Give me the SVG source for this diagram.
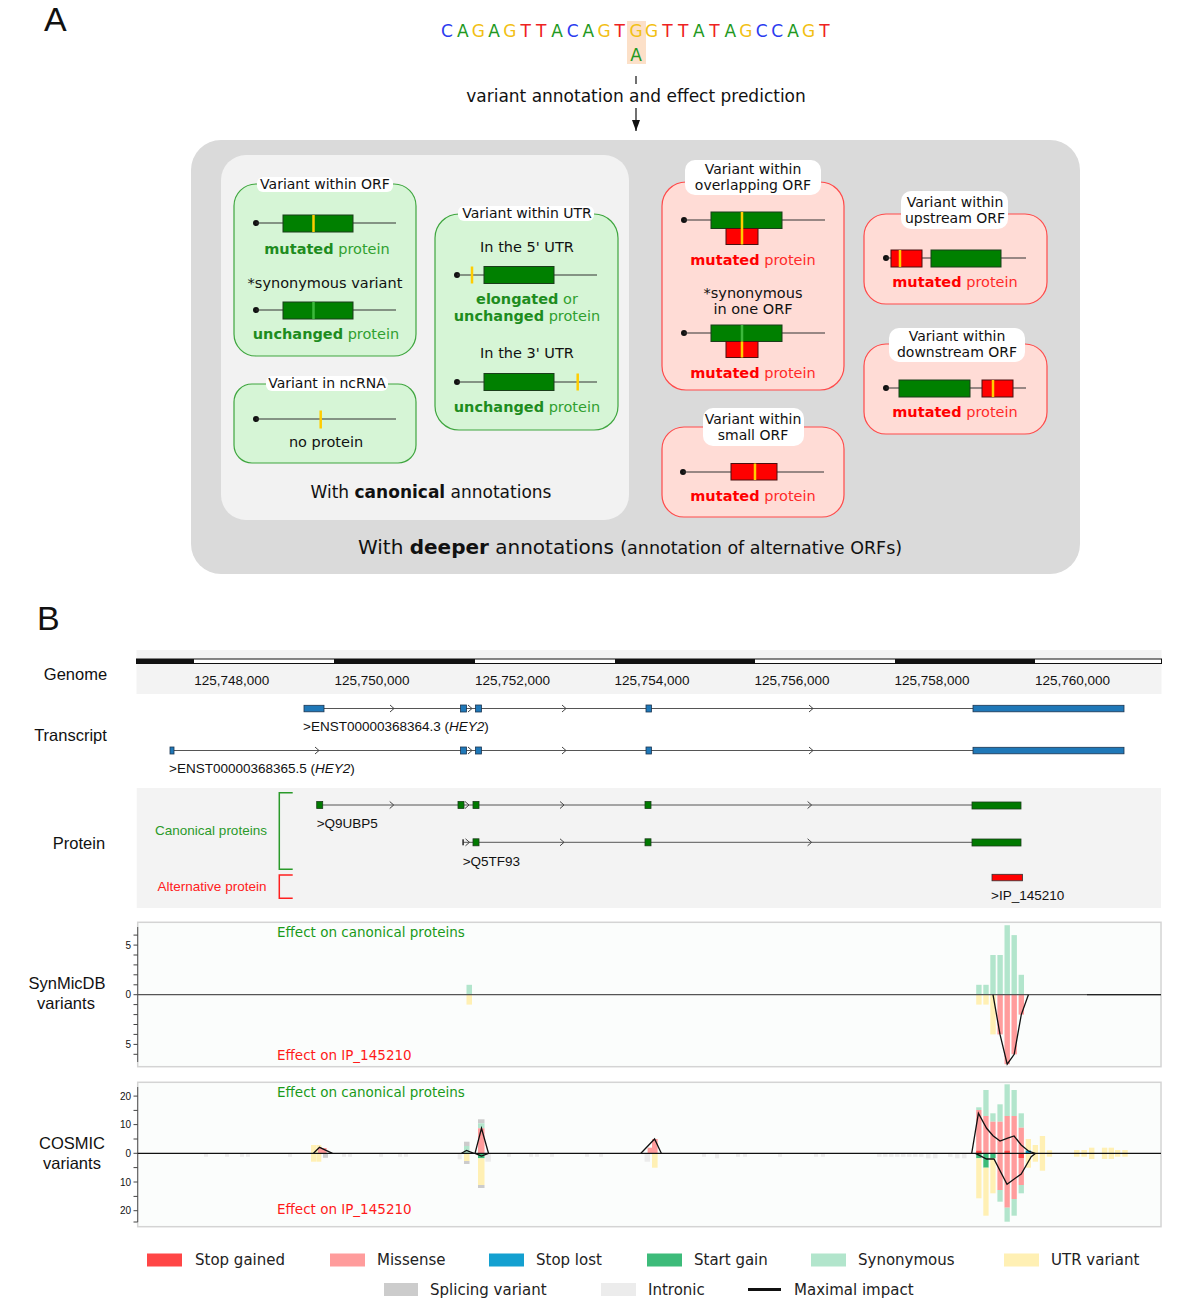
<svg xmlns="http://www.w3.org/2000/svg" width="1200" height="1299" viewBox="0 0 1200 1299">
<style>
.v{font-family:"DejaVu Sans",Verdana,sans-serif}
.a{font-family:"Liberation Sans",Arial,sans-serif}
.ttl{font-size:14px;fill:#111;text-anchor:middle}
.bd{font-size:14.5px;text-anchor:middle}
.blk{fill:#111}
.gb{fill:#d6f5d6;stroke:#3fa63f;stroke-width:1.2}
.rb{fill:#ffdcd6;stroke:#ff4a4a;stroke-width:1.2}
.pill{fill:#fff}
.gl{stroke:#333;stroke-width:1.2}
.gr{fill:#008000;stroke:#1b3d1b;stroke-width:1}
.rr{fill:#ff0000;stroke:#4a1010;stroke-width:1}
.yb{stroke:#ffcc00;stroke-width:2.5}
.lg{stroke:#3cb83c;stroke-width:2.5}
.gtx{fill:#30a030}
.gtb{fill:#1e8c1e;font-weight:bold}
.rtx{fill:#ff2a2a}
.rtb{fill:#ff0000;font-weight:bold}
.seq{font-size:17px;text-anchor:middle}
.C{fill:#2b3bef}.A{fill:#229922}.G{fill:#f2c014}.T{fill:#ee2222}
.tl{stroke:#555;stroke-width:1;fill:none}
.chev{stroke:#444;stroke-width:1;fill:none}
.bx{fill:#1f78b8;stroke:#1d3550;stroke-width:0.8}
.pg{fill:#007a00;stroke:#1b3d1b;stroke-width:0.8}
.lbl{font-size:13.5px;fill:#111}
.side{font-size:16.5px;fill:#111;text-anchor:middle}
.pos{font-size:13.5px;fill:#111;text-anchor:middle}
.ax{font-size:10px;fill:#111;text-anchor:end}
.tick{stroke:#444;stroke-width:1}
.eff{font-size:13.5px}
.sg{fill:#ff4646}.ms{fill:#ff9c9c}.sl{fill:#14a0d0}.st{fill:#3dbb7a}.sy{fill:#b2e5cc}.ut{fill:#fff0b4}.sp{fill:#cccccc}.in{fill:#ececec}
.mx{stroke:#111;stroke-width:1.3;fill:none}
.leg{font-size:15px;fill:#222}
</style>
<defs>
<marker id="arr" markerWidth="12" markerHeight="8" refX="11" refY="4" orient="auto" markerUnits="userSpaceOnUse"><path d="M0,0 L11,4 L0,8 Z" fill="#111"/></marker>
</defs>
<rect width="1200" height="1299" fill="#fff"/>

<text class="a" x="44" y="31" font-size="34" fill="#111">A</text>
<text class="a" x="37" y="630" font-size="34" fill="#111">B</text>

<!-- sequence -->
<g id="sequence" class="v seq">
<rect x="627" y="21" width="19" height="43" fill="#fce0c8"/>
<text class="C" x="447" y="37">C</text><text class="A" x="462.7" y="37">A</text><text class="G" x="478.4" y="37">G</text><text class="A" x="494.1" y="37">A</text><text class="G" x="509.8" y="37">G</text><text class="T" x="525.6" y="37">T</text><text class="T" x="541.3" y="37">T</text><text class="A" x="557" y="37">A</text><text class="C" x="572.7" y="37">C</text><text class="A" x="588.4" y="37">A</text><text class="G" x="604.1" y="37">G</text><text class="T" x="619.8" y="37">T</text><text class="G" x="636" y="37">G</text><text class="G" x="651.7" y="37">G</text><text class="T" x="667.4" y="37">T</text><text class="T" x="683.1" y="37">T</text><text class="A" x="698.8" y="37">A</text><text class="T" x="714.5" y="37">T</text><text class="A" x="730.2" y="37">A</text><text class="G" x="745.9" y="37">G</text><text class="C" x="761.6" y="37">C</text><text class="C" x="777.3" y="37">C</text><text class="A" x="793" y="37">A</text><text class="G" x="808.7" y="37">G</text><text class="T" x="824.4" y="37">T</text>
<text class="A" x="636" y="61">A</text>
</g>
<text class="v" x="636" y="102" font-size="17" fill="#111" text-anchor="middle">variant annotation and effect prediction</text>

<g id="connectors">
<line x1="636" y1="76" x2="636" y2="84" stroke="#111" stroke-width="1.2"/>
<line x1="636" y1="108" x2="636" y2="131" stroke="#111" stroke-width="1.2" marker-end="url(#arr)"/>
</g>

<!-- Panel A containers -->
<g id="deeper">
<rect x="191" y="140" width="889" height="434" rx="30" fill="#dadada"/>
<text class="v" x="630" y="554" font-size="20" fill="#111" text-anchor="middle">With <tspan font-weight="bold">deeper</tspan> annotations <tspan font-size="17.5">(annotation of alternative ORFs)</tspan></text>
</g>
<g id="canonical">
<rect x="221" y="155" width="408" height="365" rx="25" fill="#f2f2f2"/>
<text class="v" x="431" y="498" font-size="17" fill="#111" text-anchor="middle">With <tspan font-weight="bold">canonical</tspan> annotations</text>
</g>

<g id="orf" class="v">
<rect class="gb" x="234" y="184" width="182" height="172" rx="22"/>
<rect class="pill" x="257" y="177" width="136" height="15" rx="6"/>
<text class="ttl" x="325" y="189">Variant within ORF</text>
<circle cx="256" cy="223" r="3" fill="#111"/><line class="gl" x1="256" y1="223" x2="396" y2="223"/>
<rect class="gr" x="283" y="215" width="70" height="17"/><line class="yb" x1="313.5" y1="215" x2="313.5" y2="232"/>
<text class="bd" x="327" y="254"><tspan class="gtb">mutated</tspan><tspan class="gtx"> protein</tspan></text>
<text class="bd blk" x="325" y="288">*synonymous variant</text>
<circle cx="256" cy="310" r="3" fill="#111"/><line class="gl" x1="256" y1="310" x2="396" y2="310"/>
<rect class="gr" x="283" y="302" width="70" height="17"/><line class="lg" x1="313.5" y1="302" x2="313.5" y2="319"/>
<text class="bd" x="326" y="339"><tspan class="gtb">unchanged</tspan><tspan class="gtx"> protein</tspan></text>
</g>

<g id="ncrna" class="v">
<rect class="gb" x="234" y="384" width="182" height="79" rx="18"/>
<rect class="pill" x="266" y="376" width="122" height="15" rx="6"/>
<text class="ttl" x="327" y="388">Variant in ncRNA</text>
<circle cx="256" cy="419" r="3" fill="#111"/><line class="gl" x1="256" y1="419" x2="396" y2="419"/>
<line class="yb" x1="320.7" y1="410.5" x2="320.7" y2="428.5"/>
<text class="bd blk" x="326" y="447">no protein</text>
</g>

<g id="utr" class="v">
<rect class="gb" x="435" y="214" width="183" height="216" rx="24"/>
<rect class="pill" x="458" y="206" width="136" height="15" rx="6"/>
<text class="ttl" x="527" y="218">Variant within UTR</text>
<text class="bd blk" x="527" y="252">In the 5' UTR</text>
<circle cx="457" cy="275" r="3" fill="#111"/><line class="gl" x1="457" y1="275" x2="597" y2="275"/>
<line class="yb" x1="472" y1="266.5" x2="472" y2="283.5"/>
<rect class="gr" x="484" y="266.5" width="70" height="17"/>
<text class="bd" x="527" y="304"><tspan class="gtb">elongated</tspan><tspan class="gtx"> or</tspan></text>
<text class="bd" x="527" y="321"><tspan class="gtb">unchanged</tspan><tspan class="gtx"> protein</tspan></text>
<text class="bd blk" x="527" y="358">In the 3' UTR</text>
<circle cx="457" cy="382" r="3" fill="#111"/><line class="gl" x1="457" y1="382" x2="597" y2="382"/>
<rect class="gr" x="484" y="373.5" width="70" height="17"/>
<line class="yb" x1="577.7" y1="373.5" x2="577.7" y2="390.5"/>
<text class="bd" x="527" y="411.5"><tspan class="gtb">unchanged</tspan><tspan class="gtx"> protein</tspan></text>
</g>

<g id="overlapping" class="v">
<rect class="rb" x="662" y="182" width="182" height="208" rx="24"/>
<rect class="pill" x="685" y="160" width="136" height="35" rx="10"/>
<text class="ttl" x="753" y="174">Variant within</text>
<text class="ttl" x="753" y="189.5">overlapping ORF</text>
<circle cx="684" cy="220" r="3" fill="#111"/><line class="gl" x1="684" y1="220" x2="825" y2="220"/>
<rect class="gr" x="711" y="212" width="71" height="16.5"/>
<rect class="rr" x="726" y="228.5" width="32" height="16"/>
<line class="yb" x1="742" y1="212" x2="742" y2="244.5"/>
<text class="bd" x="753" y="265"><tspan class="rtb">mutated</tspan><tspan class="rtx"> protein</tspan></text>
<text class="bd blk" x="753" y="298.3">*synonymous</text>
<text class="bd blk" x="753" y="314.3">in one ORF</text>
<circle cx="684" cy="333" r="3" fill="#111"/><line class="gl" x1="684" y1="333" x2="825" y2="333"/>
<rect class="gr" x="711" y="325" width="71" height="16.5"/>
<rect class="rr" x="726" y="341.5" width="32" height="16"/>
<line class="lg" x1="742" y1="325" x2="742" y2="341.5"/>
<line class="yb" x1="742" y1="341.5" x2="742" y2="357.5"/>
<text class="bd" x="753" y="377.7"><tspan class="rtb">mutated</tspan><tspan class="rtx"> protein</tspan></text>
</g>

<g id="small" class="v">
<rect class="rb" x="662" y="427" width="182" height="90" rx="22"/>
<rect class="pill" x="703" y="408" width="101" height="38" rx="10"/>
<text class="ttl" x="753" y="424">Variant within</text>
<text class="ttl" x="753" y="440">small ORF</text>
<circle cx="683" cy="472" r="3" fill="#111"/><line class="gl" x1="683" y1="472" x2="824" y2="472"/>
<rect class="rr" x="731" y="463.5" width="46" height="16.5"/>
<line class="yb" x1="755" y1="463.5" x2="755" y2="480"/>
<text class="bd" x="753" y="500.7"><tspan class="rtb">mutated</tspan><tspan class="rtx"> protein</tspan></text>
</g>

<g id="upstream" class="v">
<rect class="rb" x="864" y="214" width="183" height="90" rx="22"/>
<rect class="pill" x="901" y="191" width="107" height="38" rx="10"/>
<text class="ttl" x="955" y="206.7">Variant within</text>
<text class="ttl" x="955" y="223.3">upstream ORF</text>
<circle cx="886" cy="258" r="3" fill="#111"/><line class="gl" x1="886" y1="258" x2="1026" y2="258"/>
<rect class="rr" x="891" y="250" width="31" height="17"/>
<line class="yb" x1="900" y1="250" x2="900" y2="267"/>
<rect class="gr" x="931" y="250" width="70" height="17"/>
<text class="bd" x="955" y="287.3"><tspan class="rtb">mutated</tspan><tspan class="rtx"> protein</tspan></text>
</g>

<g id="downstream" class="v">
<rect class="rb" x="864" y="344" width="183" height="90" rx="22"/>
<rect class="pill" x="889" y="328" width="136" height="34" rx="10"/>
<text class="ttl" x="957" y="340.7">Variant within</text>
<text class="ttl" x="957" y="356.7">downstream ORF</text>
<circle cx="886" cy="388" r="3" fill="#111"/><line class="gl" x1="886" y1="388" x2="1026" y2="388"/>
<rect class="gr" x="899" y="380" width="71" height="17"/>
<rect class="rr" x="982" y="380" width="31" height="17"/>
<line class="yb" x1="993" y1="380" x2="993" y2="397"/>
<text class="bd" x="955" y="416.7"><tspan class="rtb">mutated</tspan><tspan class="rtx"> protein</tspan></text>
</g>

<!-- Panel B -->
<g id="side-labels" class="a side">
<text x="75.5" y="680">Genome</text>
<text x="70.5" y="741">Transcript</text>
<text x="79" y="849">Protein</text>
<text x="67" y="989">SynMicDB</text>
<text x="66" y="1009">variants</text>
<text x="72" y="1149">COSMIC</text>
<text x="72" y="1169">variants</text>
</g>

<g id="genome" class="a">
<rect x="136.5" y="650" width="1025" height="44" fill="#f3f3f3"/>
<rect x="136.5" y="659" width="1025" height="4.5" fill="#fff" stroke="#111" stroke-width="1"/>
<rect x="136.5" y="659" width="57.5" height="4.5" fill="#111"/>
<rect x="334" y="659" width="141" height="4.5" fill="#111"/>
<rect x="615" y="659" width="140" height="4.5" fill="#111"/>
<rect x="895" y="659" width="140" height="4.5" fill="#111"/>
<text class="pos" x="231.7" y="685">125,748,000</text>
<text class="pos" x="372" y="685">125,750,000</text>
<text class="pos" x="512.5" y="685">125,752,000</text>
<text class="pos" x="652" y="685">125,754,000</text>
<text class="pos" x="792" y="685">125,756,000</text>
<text class="pos" x="932" y="685">125,758,000</text>
<text class="pos" x="1072.5" y="685">125,760,000</text>
</g>

<g id="transcript1" class="a">
<line class="tl" x1="305" y1="708.5" x2="1124" y2="708.5"/>
<polyline class="chev" points="390,705 394,708.5 390,712"/>
<polyline class="chev" points="468,705 472,708.5 468,712"/>
<polyline class="chev" points="562,705 566,708.5 562,712"/>
<polyline class="chev" points="809,705 813,708.5 809,712"/>
<rect class="bx" x="304" y="705.3" width="20" height="6.5"/>
<rect class="bx" x="460.5" y="705" width="6" height="7"/>
<rect class="bx" x="475.5" y="705" width="6" height="7"/>
<rect class="bx" x="646" y="705" width="5.5" height="7"/>
<rect class="bx" x="973" y="705.3" width="151" height="6.5"/>
<text class="lbl" x="303" y="731">&gt;ENST00000368364.3 (<tspan font-style="italic">HEY2</tspan>)</text>
</g>
<g id="transcript2" class="a">
<line class="tl" x1="170" y1="750.5" x2="1124" y2="750.5"/>
<polyline class="chev" points="315,747 319,750.5 315,754"/>
<polyline class="chev" points="468,747 472,750.5 468,754"/>
<polyline class="chev" points="562,747 566,750.5 562,754"/>
<polyline class="chev" points="809,747 813,750.5 809,754"/>
<rect class="bx" x="170" y="747" width="4" height="7"/>
<rect class="bx" x="460.5" y="747" width="6" height="7"/>
<rect class="bx" x="475.5" y="747" width="6" height="7"/>
<rect class="bx" x="646" y="747" width="5.5" height="7"/>
<rect class="bx" x="973" y="747.3" width="151" height="6.5"/>
<text class="lbl" x="169" y="773">&gt;ENST00000368365.5 (<tspan font-style="italic">HEY2</tspan>)</text>
</g>

<g id="protein-track" class="a">
<rect x="136.7" y="788" width="1024.3" height="120" fill="#f3f3f3"/>
<path d="M292.7,792.7 H279.3 V869.3 H292.7" fill="none" stroke="#2a9a2a" stroke-width="1.5"/>
<path d="M292.7,875 H279.3 V898.3 H292.7" fill="none" stroke="#ff2020" stroke-width="1.5"/>
<text x="211" y="834.5" font-size="13.5" fill="#2a9a2a" text-anchor="middle">Canonical proteins</text>
<text x="212" y="891" font-size="13.5" fill="#ff2020" text-anchor="middle">Alternative protein</text>
</g>
<g id="q9ubp5" class="a">
<line class="tl" x1="317" y1="805" x2="1021" y2="805"/>
<polyline class="chev" points="389.7,801.5 393.7,805 389.7,808.5"/>
<polyline class="chev" points="465,801.5 469,805 465,808.5"/>
<polyline class="chev" points="560,801.5 564,805 560,808.5"/>
<polyline class="chev" points="807.6,801.5 811.6,805 807.6,808.5"/>
<rect class="pg" x="316.7" y="801.5" width="6" height="7"/>
<rect class="pg" x="458" y="801.5" width="6" height="7"/>
<rect class="pg" x="473" y="801.5" width="6" height="7"/>
<rect class="pg" x="645" y="801.5" width="6" height="7"/>
<rect class="pg" x="972" y="802" width="49" height="7"/>
<text class="lbl" x="316.7" y="828">&gt;Q9UBP5</text>
</g>
<g id="q5tf93" class="a">
<line class="tl" x1="463" y1="842.3" x2="1021" y2="842.3"/>
<rect x="462.3" y="839.3" width="1.6" height="6" fill="#333"/>
<polyline class="chev" points="465.5,838.8 469.5,842.3 465.5,845.8"/>
<polyline class="chev" points="560,838.8 564,842.3 560,845.8"/>
<polyline class="chev" points="807.6,838.8 811.6,842.3 807.6,845.8"/>
<rect class="pg" x="473" y="838.8" width="6" height="7"/>
<rect class="pg" x="645" y="838.8" width="6" height="7"/>
<rect class="pg" x="972" y="839" width="49" height="7"/>
<text class="lbl" x="462.7" y="865.5">&gt;Q5TF93</text>
</g>
<g id="ip145210" class="a">
<rect x="992" y="874.3" width="30.5" height="6.5" fill="#ff0000" stroke="#333" stroke-width="0.8"/>
<text class="lbl" x="991" y="900">&gt;IP_145210</text>
</g>

<!-- SynMicDB chart -->
<g id="synmicdb">
<rect x="137.7" y="922.3" width="1023.3" height="144.4" fill="#fbfdfc" stroke="#d4d4d4" stroke-width="1.5"/>
<line x1="137.7" y1="927" x2="137.7" y2="1062" stroke="#555" stroke-width="1"/>
<g class="tick">
<line x1="133.5" y1="935.1" x2="137.7" y2="935.1"/><line x1="133.5" y1="945.1" x2="137.7" y2="945.1"/><line x1="133.5" y1="955" x2="137.7" y2="955"/><line x1="133.5" y1="964.9" x2="137.7" y2="964.9"/><line x1="133.5" y1="974.8" x2="137.7" y2="974.8"/><line x1="133.5" y1="984.8" x2="137.7" y2="984.8"/><line x1="133.5" y1="994.7" x2="137.7" y2="994.7"/><line x1="133.5" y1="1004.6" x2="137.7" y2="1004.6"/><line x1="133.5" y1="1014.6" x2="137.7" y2="1014.6"/><line x1="133.5" y1="1024.5" x2="137.7" y2="1024.5"/><line x1="133.5" y1="1034.4" x2="137.7" y2="1034.4"/><line x1="133.5" y1="1044.4" x2="137.7" y2="1044.4"/><line x1="133.5" y1="1054.3" x2="137.7" y2="1054.3"/>
</g>
<g class="a ax"><text x="131" y="948.5">5</text><text x="131" y="998.2">0</text><text x="131" y="1047.8">5</text></g>
<text class="v eff" x="277" y="937" fill="#1a9a1a">Effect on canonical proteins</text>
<text class="v eff" x="277" y="1060" fill="#ff1a1a">Effect on IP_145210</text>
<rect class="sy" x="466.5" y="984.8" width="5.5" height="9.9"/>
<rect class="ut" x="466.5" y="994.7" width="5.5" height="9.9"/>
<rect class="sy" x="976.2" y="984.8" width="5.4" height="9.9"/>
<rect class="sy" x="983.3" y="984.8" width="5.4" height="9.9"/>
<rect class="sy" x="990.3" y="955" width="5.4" height="39.7"/>
<rect class="sy" x="997.4" y="955" width="5.4" height="39.7"/>
<rect class="sy" x="1004.5" y="925.2" width="5.4" height="69.5"/>
<rect class="sy" x="1011.5" y="935.1" width="5.4" height="59.6"/>
<rect class="sy" x="1018.6" y="974.8" width="5.4" height="19.9"/>
<rect class="ut" x="976.2" y="994.7" width="5.4" height="9.9"/>
<rect class="ut" x="983.3" y="994.7" width="5.4" height="9.9"/>
<rect class="ut" x="990.3" y="994.7" width="5.4" height="39.7"/>
<rect class="ms" x="997.4" y="994.7" width="5.4" height="39.7"/>
<rect class="ms" x="1004.5" y="994.7" width="5.4" height="69.5"/>
<rect class="ms" x="1011.5" y="994.7" width="5.4" height="59.6"/>
<rect class="ms" x="1018.6" y="994.7" width="5.4" height="19.9"/>
<line x1="137.7" y1="994.7" x2="1161" y2="994.7" stroke="#555" stroke-width="1.3"/>
<line x1="1087" y1="994.7" x2="1161" y2="994.7" stroke="#222" stroke-width="1.3"/>
<polyline class="mx" points="993,994.7 1000,1034.4 1007.2,1064.2 1014.2,1054.3 1021.3,1014.6 1028.4,994.7"/>
</g>

<!-- COSMIC chart -->
<g id="cosmic">
<rect x="137.7" y="1082.3" width="1023.3" height="144.4" fill="#fbfdfc" stroke="#d4d4d4" stroke-width="1.5"/>
<line x1="137.7" y1="1087" x2="137.7" y2="1222" stroke="#555" stroke-width="1"/>
<g class="tick">
<line x1="133.5" y1="1096.1" x2="137.7" y2="1096.1"/><line x1="133.5" y1="1110.4" x2="137.7" y2="1110.4"/><line x1="133.5" y1="1124.6" x2="137.7" y2="1124.6"/><line x1="133.5" y1="1139" x2="137.7" y2="1139"/><line x1="133.5" y1="1153.3" x2="137.7" y2="1153.3"/><line x1="133.5" y1="1167.6" x2="137.7" y2="1167.6"/><line x1="133.5" y1="1182" x2="137.7" y2="1182"/><line x1="133.5" y1="1196.4" x2="137.7" y2="1196.4"/><line x1="133.5" y1="1210.7" x2="137.7" y2="1210.7"/><line x1="133.5" y1="1222" x2="137.7" y2="1222"/>
</g>
<g class="a ax"><text x="131" y="1099.6">20</text><text x="131" y="1128">10</text><text x="131" y="1156.8">0</text><text x="131" y="1185.5">10</text><text x="131" y="1214.2">20</text></g>
<text class="v eff" x="277" y="1096.5" fill="#1a9a1a">Effect on canonical proteins</text>
<text class="v eff" x="277" y="1213.5" fill="#ff1a1a">Effect on IP_145210</text>
<g class="in">
<rect x="204" y="1153.3" width="4" height="3.5"/><rect x="225" y="1153.3" width="4" height="3.5"/><rect x="240" y="1153.3" width="4" height="3.5"/><rect x="246" y="1153.3" width="4" height="3.5"/><rect x="288" y="1153.3" width="4" height="3.5"/><rect x="342" y="1153.3" width="4" height="3.5"/><rect x="348" y="1153.3" width="4" height="3.5"/><rect x="379" y="1153.3" width="4" height="3.5"/><rect x="398" y="1153.3" width="4" height="3.5"/><rect x="404" y="1153.3" width="4" height="3.5"/><rect x="457.7" y="1153.3" width="4" height="6"/><rect x="485.4" y="1153.3" width="5.5" height="8.4"/><rect x="507" y="1153.3" width="4" height="3.5"/><rect x="529" y="1153.3" width="4" height="3.5"/><rect x="535" y="1153.3" width="4" height="3.5"/><rect x="550" y="1153.3" width="4" height="3.5"/><rect x="585" y="1153.3" width="4" height="3.5"/><rect x="599" y="1153.3" width="4" height="3.5"/><rect x="644.6" y="1153.3" width="5.4" height="8.4"/><rect x="702" y="1153.3" width="4" height="3.5"/><rect x="715" y="1153.3" width="4" height="5"/><rect x="736" y="1153.3" width="4" height="3.5"/><rect x="743" y="1153.3" width="4" height="3.5"/><rect x="778" y="1153.3" width="4" height="3.5"/><rect x="814" y="1153.3" width="4" height="3.5"/><rect x="821" y="1153.3" width="4" height="3.5"/><rect x="877" y="1153.3" width="4.5" height="3.5"/><rect x="883" y="1153.3" width="4.5" height="3.5"/><rect x="889" y="1153.3" width="4.5" height="3.5"/><rect x="895" y="1153.3" width="4.5" height="3.5"/><rect x="901" y="1153.3" width="4.5" height="3.5"/><rect x="907" y="1153.3" width="4.5" height="3.5"/><rect x="913" y="1153.3" width="4.5" height="3.5"/><rect x="919" y="1153.3" width="4.5" height="3.5"/><rect x="926" y="1153.3" width="4.5" height="5"/><rect x="933" y="1153.3" width="4.5" height="5"/><rect x="948" y="1153.3" width="4.5" height="3.5"/><rect x="955" y="1153.3" width="4.5" height="5"/><rect x="962" y="1153.3" width="4.5" height="5"/>
</g>
<rect class="ut" x="311" y="1145" width="5" height="16.7"/>
<rect class="ut" x="316.3" y="1145" width="5" height="16.7"/>
<rect class="ms" x="318" y="1147.5" width="4" height="5.8"/>
<rect class="ms" x="321.6" y="1148" width="5" height="5.3"/>
<rect class="sp" x="323" y="1153.3" width="5" height="4.5"/>
<rect class="sp" x="464" y="1141.7" width="5.5" height="4.3"/>
<rect class="sy" x="464" y="1146" width="5.5" height="7.3"/>
<rect class="ut" x="464" y="1153.3" width="5.5" height="7.7"/>
<rect class="sp" x="464" y="1161" width="5.5" height="3"/>
<rect class="sp" x="478" y="1119.3" width="6.5" height="4"/>
<rect class="sy" x="478" y="1123.3" width="6.5" height="5"/>
<rect class="ms" x="478" y="1128.3" width="6.5" height="25"/>
<rect class="st" x="478" y="1153.3" width="6.5" height="5"/>
<rect class="ut" x="478" y="1158.3" width="6.5" height="26.7"/>
<rect class="sp" x="478" y="1185" width="6.5" height="3"/>
<rect class="ms" x="647.6" y="1147.7" width="4.4" height="5.6"/>
<rect class="ms" x="652" y="1139" width="5.6" height="14.3"/>
<rect class="ut" x="652" y="1153.3" width="5.6" height="14.4"/>
<rect class="sy" x="976.2" y="1107.3" width="5.3" height="2.7"/><rect class="ms" x="976.2" y="1110" width="5.3" height="43.3"/><rect class="sg" x="976.2" y="1150.8" width="5.3" height="2.5"/>
<rect class="sy" x="983.3" y="1090" width="5.3" height="26"/><rect class="ms" x="983.3" y="1116" width="5.3" height="37.3"/>
<rect class="sy" x="990.3" y="1113.3" width="5.3" height="8.4"/><rect class="ms" x="990.3" y="1121.7" width="5.3" height="31.6"/>
<rect class="sy" x="997.4" y="1104.3" width="5.3" height="17.4"/><rect class="ms" x="997.4" y="1121.7" width="5.3" height="31.6"/>
<rect class="sy" x="1004.5" y="1084.3" width="5.3" height="31.7"/><rect class="ms" x="1004.5" y="1116" width="5.3" height="37.3"/><rect class="sg" x="1004.5" y="1150.8" width="5.3" height="2.5"/>
<rect class="sy" x="1011.5" y="1090" width="5.3" height="26"/><rect class="ms" x="1011.5" y="1116" width="5.3" height="37.3"/>
<rect class="sy" x="1018.6" y="1113.3" width="5.3" height="14.4"/><rect class="ms" x="1018.6" y="1127.7" width="5.3" height="25.6"/>
<rect class="ut" x="1025.7" y="1139" width="5.3" height="14.3"/><rect class="sl" x="1025.7" y="1150.5" width="5.3" height="2.8"/>
<rect class="ut" x="1032.7" y="1145" width="5.3" height="8.3"/>
<rect class="ut" x="1039.8" y="1136" width="5.3" height="17.3"/>
<rect class="ut" x="1046.8" y="1150.3" width="5.3" height="3"/>
<rect class="st" x="976.2" y="1153.3" width="5.3" height="5"/><rect class="ut" x="976.2" y="1158.3" width="5.3" height="40"/>
<rect class="st" x="983.3" y="1153.3" width="5.3" height="14.4"/><rect class="ut" x="983.3" y="1167.7" width="5.3" height="48"/>
<rect class="st" x="990.3" y="1153.3" width="5.3" height="5"/><rect class="ut" x="990.3" y="1158.3" width="5.3" height="35"/>
<rect class="ms" x="997.4" y="1153.3" width="5.3" height="36.7"/><rect class="sy" x="997.4" y="1190" width="5.3" height="11.7"/>
<rect class="ms" x="1004.5" y="1153.3" width="5.3" height="54.4"/><rect class="sy" x="1004.5" y="1207.7" width="5.3" height="14"/>
<rect class="ms" x="1011.5" y="1153.3" width="5.3" height="45.7"/><rect class="sy" x="1011.5" y="1199" width="5.3" height="16.7"/>
<rect class="ms" x="1018.6" y="1153.3" width="5.3" height="31.7"/><rect class="sg" x="1018.6" y="1153.3" width="5.3" height="4.7"/><rect class="sy" x="1018.6" y="1185" width="5.3" height="8.3"/>
<rect class="ut" x="1025.7" y="1153.3" width="5.3" height="14.4"/>
<rect class="ut" x="1032.7" y="1153.3" width="5.3" height="8.4"/>
<rect class="ut" x="1039.8" y="1153.3" width="5.3" height="17.4"/>
<rect class="ut" x="1046.8" y="1153.3" width="5.3" height="3.4"/>
<rect class="ut" x="1074" y="1150" width="5.5" height="6.7"/>
<rect class="ut" x="1081.4" y="1150" width="5.5" height="6.7"/>
<rect class="ut" x="1089" y="1147.7" width="5.4" height="11.3"/>
<rect class="ut" x="1101.9" y="1147.7" width="5.4" height="11.3"/>
<rect class="ut" x="1108.6" y="1147.7" width="5.4" height="11.3"/>
<rect class="ut" x="1114.9" y="1150" width="5.4" height="6.7"/>
<rect class="ut" x="1122.3" y="1150" width="5.4" height="6.7"/>
<line x1="137.7" y1="1153.3" x2="1161" y2="1153.3" stroke="#111" stroke-width="1.3"/>
<polyline class="mx" points="313.5,1153.3 319.5,1147.3 332.5,1153.3"/>
<polyline class="mx" points="461.5,1153.3 466.5,1150.5 474,1153.3"/>
<polyline class="mx" points="475,1153.3 481.5,1128.3 488.5,1153.3"/>
<polyline class="mx" points="475,1153.3 481.5,1156 488.5,1153.3"/>
<polyline class="mx" points="640.9,1153.3 654.6,1139 661.3,1153.3"/>
<polyline class="mx" points="971.7,1153.3 978.4,1113.3 986.6,1128.3 993,1135.7 1000,1141 1007,1138.3 1014.1,1136 1021.2,1145 1028.4,1151 1035,1153.3"/>
<polyline class="mx" points="975.5,1153.3 986.6,1159 994,1159 1007,1184.3 1021.2,1174 1031.2,1156.7 1035.7,1153.3"/>
</g>

<g id="legend" class="v leg">
<rect class="sg" x="147" y="1253.5" width="35" height="13"/><text x="195" y="1264.5">Stop gained</text>
<rect class="ms" x="330" y="1253.5" width="35" height="13"/><text x="377" y="1264.5">Missense</text>
<rect class="sl" x="489" y="1253.5" width="35" height="13"/><text x="536" y="1264.5">Stop lost</text>
<rect class="st" x="647" y="1253.5" width="35" height="13"/><text x="694" y="1264.5">Start gain</text>
<rect class="sy" x="811" y="1253.5" width="35" height="13"/><text x="858" y="1264.5">Synonymous</text>
<rect class="ut" x="1004" y="1253.5" width="35" height="13"/><text x="1051" y="1264.5">UTR variant</text>
<rect class="sp" x="384" y="1283" width="34" height="13"/><text x="430" y="1294.5">Splicing variant</text>
<rect class="in" x="601" y="1283" width="35" height="13"/><text x="648" y="1294.5">Intronic</text>
<line x1="748" y1="1289.5" x2="781" y2="1289.5" stroke="#111" stroke-width="3"/><text x="794" y="1294.5">Maximal impact</text>
</g>
</svg>
